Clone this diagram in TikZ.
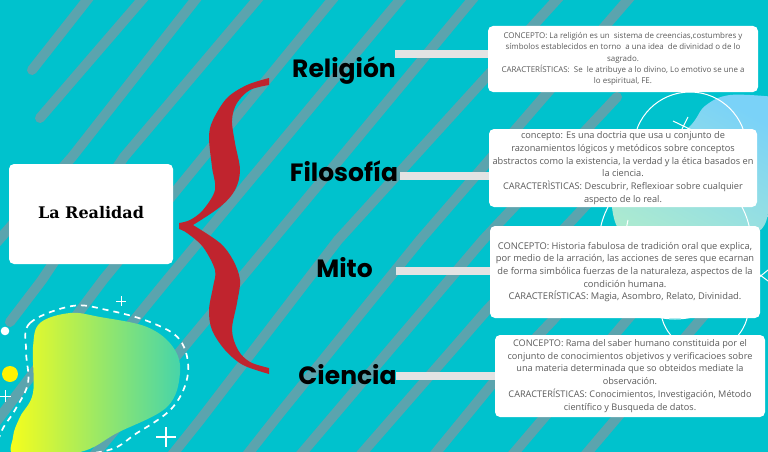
\documentclass[tikz,border=0pt]{standalone}
\usepackage{fontspec}
\setmainfont{Open Sans}
\newfontfamily\headfont{Poppins}[BoldFont={Poppins Bold}]
\newfontfamily\titlefont{DejaVu Serif}
\definecolor{bgteal}{HTML}{00C2CD}
\definecolor{stripecol}{HTML}{5BA4AE}
\definecolor{bracered}{HTML}{C0242E}
\definecolor{barcol}{HTML}{E3E3E3}
\definecolor{txtgray}{HTML}{5A5A5A}
\tikzset{
  stripeline/.style={stripecol,line width=10pt,line cap=round,line join=round},
  card/.style={fill=white,rounded corners=5pt,inner sep=0pt,align=center,text=txtgray},
  head/.style={font=\headfont\bfseries\fontsize{25}{28}\selectfont,text=black,inner sep=0pt},
  bar/.style={barcol,line width=8pt},
  ring/.style={white,line width=1pt},
  spark/.style={white,line width=1pt},
}
\begin{document}
\begin{tikzpicture}[x=1pt,y=-1pt]
\useasboundingbox (0,0) rectangle (768,452);
\fill[bgteal] (0,0) rectangle (768,452);
\begin{scope}
\clip (0,0) rectangle (768,452);
% stripes
\draw[stripeline] (91,-5) -- (32,70);
\draw[stripeline] (146,-5) -- (40,118);
\draw[stripeline] (199,-5) -- (72,157) -- (-10,250);
\draw[stripeline] (261,-5) -- (124,157) -- (42,280) -- (10,322);
\draw[stripeline] (336,-5) -- (103,280) -- (28,380) -- (-10,430);
\draw[stripeline] (404,-5) -- (167,280) -- (20,460);
\draw[stripeline] (476,-5) -- (90,460);
\draw[stripeline] (561,-5) -- (338,240) -- (200,420) -- (168,460);
\draw[stripeline] (632,-5) -- (420,240) -- (280,413) -- (243,460);
\draw[stripeline] (617,97) -- (483,240) -- (296,460);
\draw[stripeline] (600,190) -- (577,215) -- (487,310) -- (356,460);
\draw[stripeline] (570,300) -- (553,320) -- (493,383) -- (430,460);
\draw[stripeline] (640,305) -- (627,320) -- (508,460);
\draw[stripeline] (713,305) -- (700,320) -- (581,460);
% blue blob
\shade[top color={rgb,255:red,122;green,210;blue,248},bottom color={rgb,255:red,172;green,234;blue,208},shading angle=-30]
  plot[smooth,tension=.6] coordinates {(612,207)(640,165)(688,128)(705,106)(730,95)(775,97)}
  -- (775,205) -- plot[smooth,tension=.6] coordinates {(768,208)(758,232)(700,250)(640,245)(618,228)(612,207)};
% rings
\draw[ring] (690,148.5) circle (56.5);
\draw[ring] (675,243) circle (76);
\draw[ring] (704.5,307) circle (44);
\draw[spark] (673,121) -- (700,134);
\draw[spark] (688,117) -- (682,129);
\draw[spark] (628,220) -- (626,230);
\draw[spark] (768,270) -- (757,279);
\draw[spark] (756,272) -- (768,281);
% green blob
\shade[left color={rgb,255:red,250;green,255;blue,25},right color={rgb,255:red,70;green,212;blue,170}]
  plot[smooth cycle,tension=.6] coordinates {(70,313)(40,323)(33,347)(33,393)(20,417)(13,437)(17,456)(80,452)(117,433)(167,407)(180,373)(173,347)(147,327)(100,317)};
\draw[white,line width=1.7pt,dash pattern=on 6pt off 5pt]
  plot[smooth cycle,tension=.6] coordinates {(72,306)(30,323)(26,350)(28,383)(15,410)(1,433)(2,456)(100,452)(137,433)(173,407)(188,373)(180,340)(150,322)(107,310)};
\end{scope}
% small decorations
\draw[spark] (116,301) -- (126,301) (121,296) -- (121,306);
\draw[spark,line width=1.3pt] (156,437) -- (176,437) (166,427) -- (166,447);
\draw[spark] (-1,396) -- (11,396) (5,390) -- (5,402);
\fill[white] (5,331) circle (4.3);
\fill[yellow] (10,374) circle (8);
% brace
\fill[bracered]
  plot[smooth,tension=.55] coordinates {(269,78)(247,85)(227,98)(213,120)(209,137)(212,167)(215,190)(203,210)(190,220)(179,223)}
  -- plot[smooth,tension=.55] coordinates {(179,229)(187,233)(203,247)(215,270)(213,287)(209,310)(212,330)(225,350)(243,365)(269,374)}
  -- plot[smooth,tension=.55] coordinates {(269,368)(250,362)(238,350)(232,330)(237,303)(240,280)(233,260)(220,243)(193,225)}
  -- plot[smooth,tension=.55] coordinates {(193,225)(220,207)(235,190)(240,170)(235,143)(232,120)(237,103)(250,90)(269,85)}
  -- cycle;
% cards
\node[card,minimum width=164pt,minimum height=100pt,text=black,font=\titlefont\bfseries\fontsize{16}{20}\selectfont] (root) at (91,214) {\raisebox{0pt}[8pt][0pt]{La Realidad}};
\node[card,minimum width=270pt,minimum height=66pt,font=\fontsize{7.95}{11.3}\selectfont] (c1) at (623,59) {CONCEPTO: La religión es un\ \ sistema de creencias,costumbres y\\símbolos establecidos en torno\ \ a una idea\ \ de divinidad o de lo\\sagrado.\\CARACTERÍSTICAS:\ \ Se\ \ le atribuye a lo divino, Lo emotivo se une a\\lo espiritual, FE.};
\node[card,minimum width=268pt,minimum height=78pt,font=\fontsize{9.2}{12.7}\selectfont] (c2) at (623,168) {concepto: Es una doctria que usa u conjunto de\\razonamientos lógicos y metódicos sobre conceptos\\abstractos como la existencia, la verdad y la ética basados en\\la ciencia.\\CARACTERÌSTICAS: Descubrir, Reflexioar sobre cualquier\\aspecto de lo real.};
\node[card,minimum width=270pt,minimum height=92pt,font=\fontsize{9.3}{12.7}\selectfont] (c3) at (625,272) {CONCEPTO: Historia fabulosa de tradición oral que explica,\\por medio de la arración, las acciones de seres que ecarnan\\de forma simbólica fuerzas de la naturaleza, aspectos de la\\condición humana.\\CARACTERÍSTICAS: Magia, Asombro, Relato, Divinidad.};
\node[card,minimum width=270pt,minimum height=82pt,font=\fontsize{9.15}{12.8}\selectfont] (c4) at (630,376) {CONCEPTO: Rama del saber humano constituida por el\\conjunto de conocimientos objetivos y verificacioes sobre\\una materia determinada que so obteidos mediate la\\observación.\\CARACTERÍSTICAS: Conocimientos, Investigación, Método\\científico y Busqueda de datos.};
% headings
\node[head] (h1) at (344,71) {Religión};
\node[head] (h2) at (344,171) {Filosofía};
\node[head] (h3) at (344.5,268) {Mito};
\node[head] (h4) at (347.5,375) {Ciencia};
% connectors
\coordinate (b1) at (395,54);
\coordinate (b2) at (400,176);
\coordinate (b3) at (396,271);
\coordinate (b4) at (396,376);
\draw[bar] (b1) -- (b1 -| c1.west);
\draw[bar] (b2) -- (b2 -| c2.west);
\draw[bar] (b3) -- (b3 -| c3.west);
\draw[bar] (b4) -- (b4 -| c4.west);
\end{tikzpicture}
\end{document}
